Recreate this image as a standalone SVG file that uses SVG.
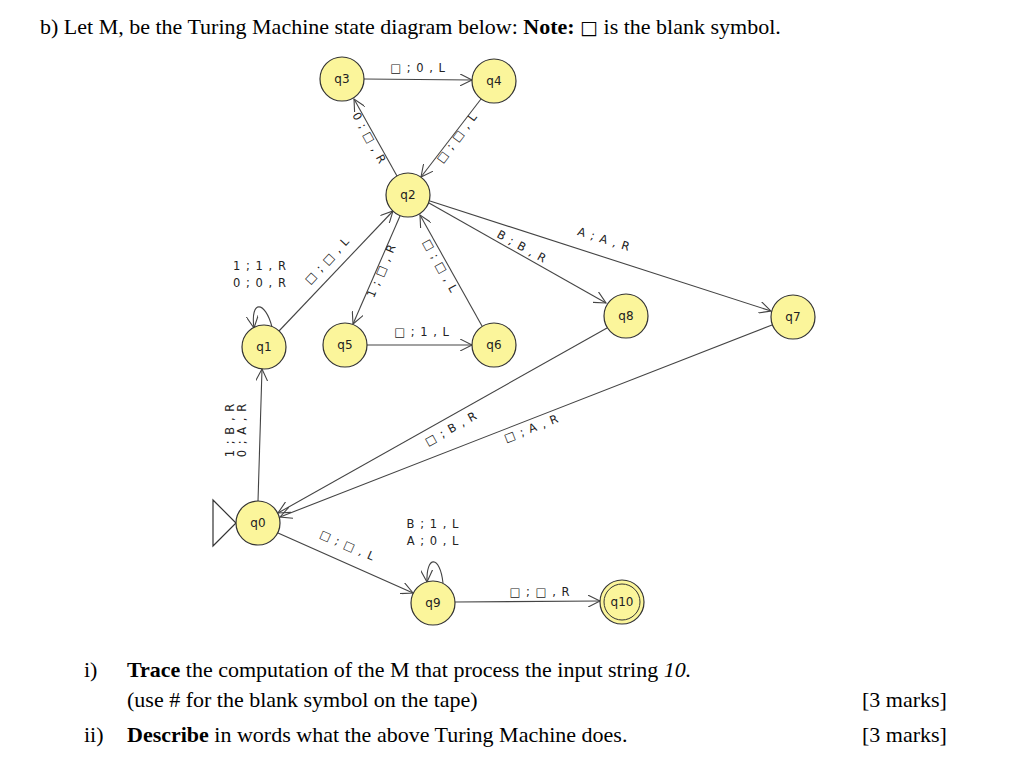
<svg xmlns="http://www.w3.org/2000/svg" width="1024" height="780" viewBox="0 0 1024 780">
<style>
.n{fill:#fbf59b;stroke:#333;stroke-width:1.2}
.t{font-family:"DejaVu Sans",sans-serif;font-size:12px;fill:#222;text-anchor:middle}
.l{font-family:"DejaVu Sans",sans-serif;font-size:11.5px;fill:#222;text-anchor:middle;letter-spacing:1px}
.e{stroke:#444;stroke-width:1.1;fill:none;marker-end:url(#a)}
.p{font-family:"Liberation Serif",serif;font-size:22px;fill:#000}
</style>
<defs><marker id="a" markerWidth="14" markerHeight="12" refX="12" refY="6" orient="auto" markerUnits="userSpaceOnUse"><path d="M0,0 L12,6 L0,12" fill="none" stroke="#444" stroke-width="1.1"/></marker></defs>
<rect width="1024" height="780" fill="#fff"/>
<text class="p" x="40" y="34" font-size="24">b)  Let M, be the Turing Machine state diagram below: <tspan font-weight="bold">Note:</tspan> <tspan font-family="DejaVu Sans" font-size="19">□</tspan> is the blank symbol.</text>
<g id="connectors">
<line class="e" x1="364" y1="79" x2="472" y2="80"/>
<line class="e" x1="397" y1="176" x2="354" y2="99"/>
<line class="e" x1="481" y1="99" x2="421" y2="177"/>
<line class="e" x1="279" y1="331" x2="393" y2="211"/>
<line class="e" x1="400" y1="216" x2="353" y2="324"/>
<line class="e" x1="482" y1="326" x2="420" y2="215"/>
<line class="e" x1="367" y1="345" x2="472" y2="345"/>
<line class="e" x1="429" y1="203" x2="606" y2="303"/>
<line class="e" x1="430" y1="201" x2="771" y2="311"/>
<line class="e" x1="607" y1="328" x2="278" y2="513"/>
<line class="e" x1="772" y1="325" x2="280" y2="517"/>
<line class="e" x1="258" y1="501" x2="262" y2="369"/>
<line class="e" x1="278" y1="533" x2="413" y2="593"/>
<line class="e" x1="455" y1="602" x2="600" y2="601"/>
<path class="e" d="M272,327 C265,300 250,300 254,328"/>
<path class="e" d="M443,583 C440,555 426,555 427,582"/>
<path d="M213,500 L236,523 L213,546 Z" fill="none" stroke="#333" stroke-width="1.2"/>
</g>
<g id="labels">
<text class="l" x="418" y="72">□ ; 0 , L</text>
<text class="l" transform="translate(366,140) rotate(61)">0 ; □ , R</text>
<text class="l" transform="translate(460,140) rotate(-53)">□ ; □ , L</text>
<text class="l" transform="translate(330,263) rotate(-47)">□ ; □ , L</text>
<text class="l" transform="translate(385,272) rotate(-67)">1 ; □ , R</text>
<text class="l" transform="translate(437,268) rotate(61)">□ ; □ , L</text>
<text class="l" x="422" y="336">□ ; 1 , L</text>
<text class="l" transform="translate(520,250) rotate(29)">B ; B , R</text>
<text class="l" transform="translate(603,243) rotate(17.6)">A ; A , R</text>
<text class="l" transform="translate(453,432) rotate(-29)">□ ; B , R</text>
<text class="l" transform="translate(533,432) rotate(-21)">□ ; A , R</text>
<text class="l" transform="translate(234,430) rotate(-90)">1 ; B , R</text>
<text class="l" transform="translate(246,430) rotate(-90)">0 ; A , R</text>
<text class="l" transform="translate(346,549) rotate(24)">□ ; □ , L</text>
<text class="l" x="433" y="528">B ; 1 , L</text>
<text class="l" x="433" y="545">A ; 0 , L</text>
<text class="l" x="540" y="596">□ ; □ , R</text>
<text class="l" x="260" y="270">1 ; 1 , R</text>
<text class="l" x="260" y="287">0 ; 0 , R</text>
</g>
<g id="q0"><circle class="n" cx="258" cy="523" r="22"/><text class="t" x="258" y="527">q0</text></g>
<g id="q1"><circle class="n" cx="264" cy="347" r="22"/><text class="t" x="264" y="351">q1</text></g>
<g id="q2"><circle class="n" cx="408" cy="195" r="22"/><text class="t" x="408" y="199">q2</text></g>
<g id="q3"><circle class="n" cx="342" cy="79" r="22"/><text class="t" x="342" y="83">q3</text></g>
<g id="q4"><circle class="n" cx="494" cy="81" r="22"/><text class="t" x="494" y="85">q4</text></g>
<g id="q5"><circle class="n" cx="345" cy="345" r="22"/><text class="t" x="345" y="349">q5</text></g>
<g id="q6"><circle class="n" cx="494" cy="345" r="22"/><text class="t" x="494" y="349">q6</text></g>
<g id="q7"><circle class="n" cx="793" cy="317" r="22"/><text class="t" x="793" y="321">q7</text></g>
<g id="q8"><circle class="n" cx="626" cy="316" r="22"/><text class="t" x="626" y="320">q8</text></g>
<g id="q9"><circle class="n" cx="433" cy="603" r="22"/><text class="t" x="433" y="607">q9</text></g>
<g id="q10"><circle class="n" cx="622" cy="602" r="22"/><circle cx="622" cy="602" r="18" fill="none" stroke="#333" stroke-width="1"/><text class="t" x="622" y="606">q10</text></g>
<text class="p" x="84" y="677">i)</text>
<text class="p" x="127" y="677"><tspan font-weight="bold">Trace</tspan> the computation of the M that process the input string <tspan font-style="italic">10.</tspan></text>
<text class="p" x="127" y="707">(use # for the blank symbol on the tape)</text>
<text class="p" x="84" y="742">ii)</text>
<text class="p" x="127" y="742"><tspan font-weight="bold">Describe</tspan> in words what the above Turing Machine does.</text>
<text class="p" x="862" y="707">[3 marks]</text>
<text class="p" x="862" y="742">[3 marks]</text>
</svg>
